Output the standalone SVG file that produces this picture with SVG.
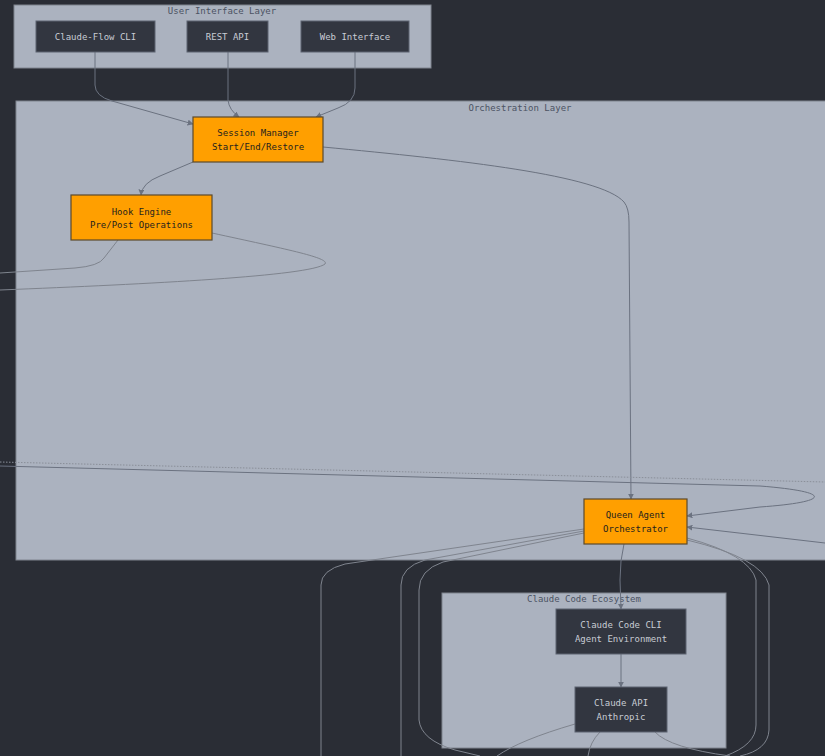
<svg xmlns="http://www.w3.org/2000/svg" width="825" height="756" viewBox="0 0 825 756">
<defs>
<marker id="arr" viewBox="0 0 10 10" refX="9" refY="5" markerWidth="6" markerHeight="6" orient="auto-start-reverse" markerUnits="userSpaceOnUse">
<path d="M0,0 L10,5 L0,10 z" fill="#6b7280"/>
</marker>
<style>
.cl{fill:#abb2bf;stroke:#7f848e;stroke-width:1}
.cll{font-family:"DejaVu Sans Mono",monospace;font-size:9px;fill:#4b5263;text-anchor:middle}
.dk rect{fill:#323640;stroke:#5c6370;stroke-width:1}
.dk text{font-family:"DejaVu Sans Mono",monospace;font-size:9px;fill:#c8ccd4;text-anchor:middle}
.or rect{fill:#ff9f00;stroke:#5c4a2a;stroke-width:1.2}
.or text{font-family:"DejaVu Sans Mono",monospace;font-size:9px;fill:#1e1e1e;text-anchor:middle}
.e{fill:none;stroke:#7f848e;stroke-width:1}
.ea{fill:none;stroke:#6b7280;stroke-width:1;marker-end:url(#arr)}
.ed{fill:none;stroke:#8a8f99;stroke-width:1;stroke-dasharray:1.5 1.5}
</style>
</defs>
<rect width="825" height="756" fill="#2a2d35"/>
<g id="clusters">
<rect class="cl" x="14" y="5" width="417" height="63"/>
<text class="cll" x="222" y="14">User Interface Layer</text>
<rect class="cl" x="16" y="101" width="820" height="459"/>
<text class="cll" x="520" y="111">Orchestration Layer</text>
<rect class="cl" x="442" y="593" width="284" height="155"/>
<text class="cll" x="584" y="602">Claude Code Ecosystem</text>
</g>
<g id="connectors">
<path class="ea" d="M95,52 L95,85 Q95,96 112,101 L193,124"/>
<path class="ea" d="M228,52 L228,100 Q229,110 239,117"/>
<path class="ea" d="M355,52 L355,88 Q355,102 338,108 L316,117"/>
<path class="ea" d="M193,162 L160,176 Q142,183 141,195"/>
<path class="ea" d="M323,147 C460,160 600,175 624,202 Q629,208 629,222 L631,499"/>
<path class="e" d="M118,240 L104,258 Q99,266 75,268 L0,273"/>
<path class="e" d="M212,233 C290,250 330,258 325,264 C310,276 150,284 0,290"/>
<path class="ed" d="M0,462 L825,482"/>
<path class="ea" d="M0,466 L760,486 C835,492 830,502 760,507 L687,516"/>
<path class="ea" d="M825,543 L687,527"/>
<path class="e" d="M584,529 L345,564 Q321,570 321,585 L321,756"/>
<path class="e" d="M584,531 L425,560 Q401,567 401,585 L401,756"/>
<path class="e" d="M584,533 L443,562 Q419,570 419,590 L419,720 Q421,740 455,750 L480,756"/>
<path class="ea" d="M624,544 Q620,560 620,580 L621,609"/>
<path class="ea" d="M621,654 L621,687"/>
<path class="e" d="M687,538 Q750,555 756,580 L756,725 Q756,745 725,756"/>
<path class="e" d="M687,540 Q762,558 769,585 L769,730 Q768,750 740,756"/>
<path class="e" d="M575,724 Q520,740 497,756"/>
<path class="e" d="M600,732 Q590,742 588,756"/>
<path class="e" d="M655,732 Q670,748 730,756"/>
</g>
<g id="cli" class="dk"><rect x="36" y="21" width="119" height="31"/><text x="95.5" y="40">Claude-Flow CLI</text></g>
<g id="rest" class="dk"><rect x="187" y="21" width="81" height="31"/><text x="227.5" y="40">REST API</text></g>
<g id="web" class="dk"><rect x="301" y="21" width="108" height="31"/><text x="355" y="40">Web Interface</text></g>
<g id="session" class="or"><rect x="193" y="117" width="130" height="45"/><text x="258" y="136">Session Manager</text><text x="258" y="150">Start/End/Restore</text></g>
<g id="hook" class="or"><rect x="71" y="195" width="141" height="45"/><text x="141.5" y="215">Hook Engine</text><text x="141.5" y="228">Pre/Post Operations</text></g>
<g id="queen" class="or"><rect x="584" y="499" width="103" height="45"/><text x="635.5" y="518">Queen Agent</text><text x="635.5" y="532">Orchestrator</text></g>
<g id="ccli" class="dk"><rect x="556" y="609" width="130" height="45"/><text x="621" y="628">Claude Code CLI</text><text x="621" y="642">Agent Environment</text></g>
<g id="api" class="dk"><rect x="575" y="687" width="92" height="45"/><text x="621" y="706">Claude API</text><text x="621" y="720">Anthropic</text></g>
</svg>
